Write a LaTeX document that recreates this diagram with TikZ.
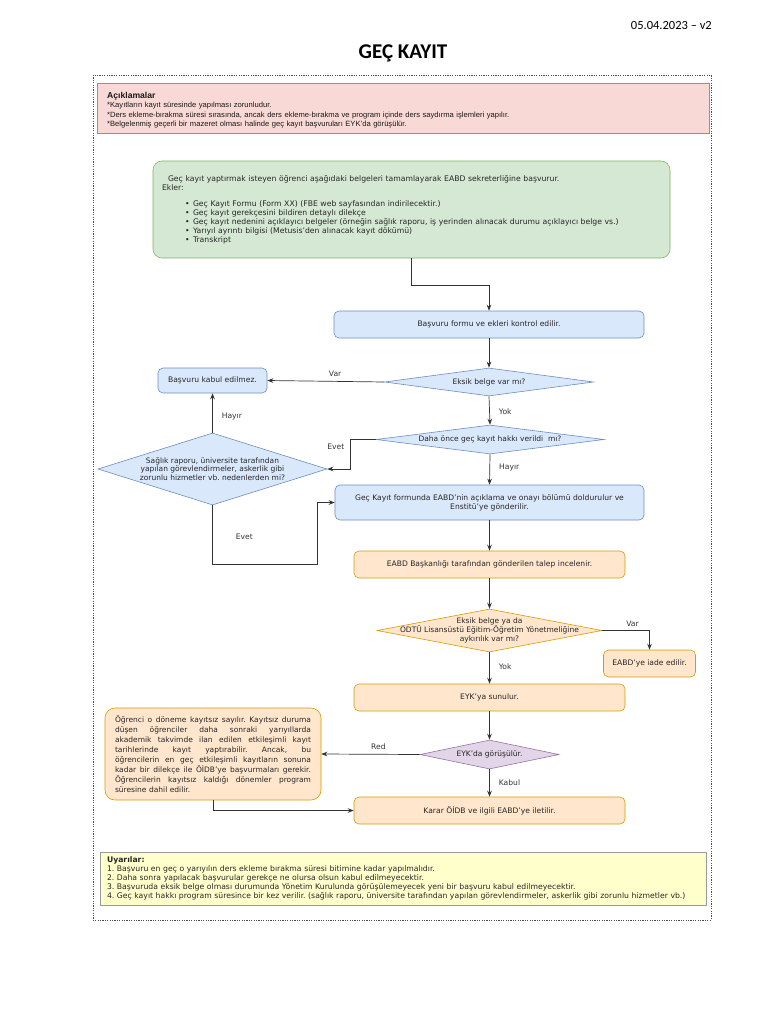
\documentclass[tikz,border=0pt]{standalone}
\usepackage{fontspec}
\usetikzlibrary{shapes.geometric,arrows.meta,calc}
\newfontfamily\vfont{DejaVu Sans}
\newfontfamily\afont{Liberation Sans}
\newfontfamily\cfont{Carlito}
\definecolor{bfill}{HTML}{DAE8FC}\definecolor{bdraw}{HTML}{6C8EBF}
\definecolor{gfill}{HTML}{D5E8D4}\definecolor{gdraw}{HTML}{82B366}
\definecolor{ofill}{HTML}{FFE6CC}\definecolor{odraw}{HTML}{D79B00}
\definecolor{pfill}{HTML}{E1D5E7}\definecolor{pdraw}{HTML}{9673A6}
\definecolor{rfill}{HTML}{F9D9D5}\definecolor{rdraw}{HTML}{D9736C}
\definecolor{yfill}{HTML}{FFFFCC}\definecolor{ydraw}{HTML}{9A9A9A}
\definecolor{lc}{HTML}{333333}
\frenchspacing
\newcommand\blt{\hspace*{23pt}\makebox[8pt][l]{\textbullet}}
\newcommand\jl[1]{\makebox[196pt][s]{\spaceskip=0pt\xspaceskip=0pt\relax #1}\\}
\begin{document}
\begin{tikzpicture}[x=1pt,y=-1pt,
  txt/.style={font=\vfont\fontsize{7.6}{9}\selectfont, text=black!85},
  box/.style={txt, draw, rounded corners=5pt, line width=0.6pt, inner sep=2pt, align=center},
  bluebox/.style={box, fill=bfill, draw=bdraw},
  orbox/.style={box, fill=ofill, draw=odraw},
  grbox/.style={box, fill=gfill, draw=gdraw},
  dia/.style={shape=diamond, draw, inner sep=0pt, line width=0.6pt},
  bdia/.style={dia, fill=bfill, draw=bdraw},
  odia/.style={dia, fill=ofill, draw=odraw},
  pdia/.style={dia, fill=pfill, draw=pdraw},
  dlab/.style={font=\vfont\fontsize{7.5}{8.8}\selectfont, text=black!85, align=center, inner sep=0pt},
  arr/.style={draw=lc, line width=0.7pt, -{Stealth[length=6pt,width=4.6pt]}},
  elab/.style={txt, text=black!80, inner sep=1pt}
]
\useasboundingbox (0,0) rectangle (768,1024);

% header
\node[anchor=east, inner sep=0pt] (date) at (712,25) {\cfont\fontsize{12.5}{14}\selectfont 05.04.2023 – v2};
\node[inner sep=0pt] (title) at (403,53) {\cfont\bfseries\fontsize{21}{24}\selectfont GEÇ KAYIT};

% outer dotted frame
\draw[gray!60!black, line width=0.6pt, dash pattern=on 1.2pt off 1.2pt] (93,75) rectangle (711,920);

% Aciklamalar
\node[draw=rdraw, fill=rfill, line width=0.6pt, minimum width=612pt, minimum height=50pt, inner sep=0pt] (acik) at (403,108) {};
\node[anchor=west, text width=590pt, inner sep=0pt, align=left,
      font=\afont\fontsize{7.6}{9.4}\selectfont, text=black!90] (aciktxt) at (107,110)
  {{\bfseries\fontsize{8.6}{9.4}\selectfont Açıklamalar}\\
   {*}Kayıtların kayıt süresinde yapılması zorunludur.\\
   {*}Ders ekleme-bırakma süresi sırasında, ancak ders ekleme-bırakma ve program içinde ders saydırma işlemleri yapılır.\\
   {*}Belgelenmiş geçerli bir mazeret olması halinde geç kayıt başvuruları EYK’da görüşülür.};

% green start box
\node[grbox, rounded corners=9pt, minimum width=517pt, minimum height=97pt, text width=499pt,
      inner xsep=9pt, align=left, font=\vfont\fontsize{7.7}{9}\selectfont] (green) at (411.5,209.5)
  {\hspace*{6pt}Geç kayıt yaptırmak isteyen öğrenci aşağıdaki belgeleri tamamlayarak EABD sekreterliğine başvurur.\\
   Ekler:\\[7pt]
   \blt Geç Kayıt Formu (Form XX) (FBE web sayfasından indirilecektir.)\\
   \blt Geç kayıt gerekçesini bildiren detaylı dilekçe\\
   \blt Geç kayıt nedenini açıklayıcı belgeler (örneğin sağlık raporu, iş yerinden alınacak durumu açıklayıcı belge vs.)\\
   \blt Yarıyıl ayrıntı bilgisi (Metusis’den alınacak kayıt dökümü)\\
   \blt Transkript};

\node[bluebox, minimum width=310pt, minimum height=27pt] (box1) at (489,324.5) {Başvuru formu ve ekleri kontrol edilir.};
\node[bdia, minimum width=209pt, minimum height=28pt, label={[dlab]center:Eksik belge var mı?}] (dia1) at (489,382) {};
\node[bluebox, minimum width=109pt, minimum height=25pt] (rej) at (212.5,380.5) {Başvuru kabul edilmez.};
\node[bdia, minimum width=228pt, minimum height=29pt, label={[dlab]center:Daha önce geç kayıt hakkı verildi\ \ mı?}] (dia2) at (490,439.5) {};
\node[bdia, minimum width=229pt, minimum height=72pt, label={[dlab]center:Sağlık raporu, üniversite tarafından\\yapılan görevlendirmeler, askerlik gibi\\zorunlu hizmetler vb. nedenlerden mi?}] (dia3) at (212.5,469) {};
\node[bluebox, minimum width=309pt, minimum height=35pt] (box4) at (489.5,502.5) {Geç Kayıt formunda EABD’nin açıklama ve onayı bölümü doldurulur ve\\Enstitü’ye gönderilir.};
\node[orbox, minimum width=271pt, minimum height=27pt] (box5) at (489.5,564.5) {EABD Başkanlığı tarafından gönderilen talep incelenir.};
\node[odia, minimum width=225pt, minimum height=43pt, label={[dlab]center:Eksik belge ya da\\ODTÜ Lisansüstü Eğitim-Öğretim Yönetmeliğine\\aykırılık var mı?}] (dia4) at (489.5,630.5) {};
\node[orbox, minimum width=92pt, minimum height=27pt] (box6) at (649.5,663.5) {EABD’ye iade edilir.};
\node[orbox, minimum width=271pt, minimum height=27pt] (box7) at (489.5,697.5) {EYK’ya sunulur.};
\node[pdia, minimum width=139pt, minimum height=29pt, label={[dlab]center:EYK’da görüşülür.}] (dia5) at (489.5,754.5) {};
\node[orbox, rounded corners=10pt, minimum width=216pt, minimum height=92pt, text width=196pt, inner xsep=10pt,
      align=left, font=\vfont\fontsize{7.5}{9.9}\selectfont] (box8) at (213,754)
  {\jl{Öğrenci o döneme kayıtsız sayılır. Kayıtsız duruma}
   \jl{düşen öğrenciler daha sonraki yarıyıllarda}
   \jl{akademik takvimde ilan edilen etkileşimli kayıt}
   \jl{tarihlerinde kayıt yaptırabilir. Ancak, bu}
   \jl{öğrencilerin en geç etkileşimli kayıtların sonuna}
   \jl{kadar bir dilekçe ile ÖİDB’ye başvurmaları gerekir.}
   \jl{Öğrencilerin kayıtsız kaldığı dönemler program}
   süresine dahil edilir.};
\node[orbox, minimum width=271pt, minimum height=27pt] (box9) at (489.5,810.5) {Karar ÖİDB ve ilgili EABD’ye iletilir.};

% Uyarilar
\node[draw=ydraw, fill=yfill, line width=0.6pt, minimum width=606pt, minimum height=53pt,
      text width=592pt, inner xsep=7pt, align=left,
      font=\vfont\fontsize{7.7}{9}\selectfont, text=black!85] (uyari) at (403,878.5)
  {{\bfseries Uyarılar:}\\
   1. Başvuru en geç o yarıyılın ders ekleme bırakma süresi bitimine kadar yapılmalıdır.\\
   2. Daha sonra yapılacak başvurular gerekçe ne olursa olsun kabul edilmeyecektir.\\
   3. Başvuruda eksik belge olması durumunda Yönetim Kurulunda görüşülemeyecek yeni bir başvuru kabul edilmeyecektir.\\
   4. Geç kayıt hakkı program süresince bir kez verilir. (sağlık raporu, üniversite tarafından yapılan görevlendirmeler, askerlik gibi zorunlu hizmetler vb.)};

% connectors
\draw[arr] (green.south) -- ++(0,27) -| (box1.north);
\draw[arr] (box1.south) -- (dia1.north);
\draw[arr] (dia1.west) -- node[elab, above=3pt, pos=0.42] {Var} (rej.east);
\draw[arr] (dia1.south) -- node[elab, right=8pt, pos=0.55] {Yok} (dia2.north);
\draw[arr] (dia2.west) -- ++(-25,0) |- node[elab, left=5pt, pos=0.13] {Evet} (dia3.east);
\draw[arr] (dia3.north) -- node[elab, right=8pt, pos=0.4] {Hayır} (rej.south);
\draw[arr] (dia3.south) -- ++(0,59) node[elab, right=22pt, pos=0.54] {Evet} -- ++(104.5,0) |- (box4.west);
\draw[arr] (dia2.south) -- node[elab, right=8pt, pos=0.42] {Hayır} (box4.north);
\draw[arr] (box4.south) -- (box5.north);
\draw[arr] (box5.south) -- (dia4.north);
\draw[arr] (dia4.east) -| node[elab, above=3pt, pos=0.32] {Var} (box6.north);
\draw[arr] (dia4.south) -- node[elab, right=8pt, pos=0.47] {Yok} (box7.north);
\draw[arr] (box7.south) -- (dia5.north);
\draw[arr] (dia5.west) -- node[elab, above=3pt, pos=0.42] {Red} (box8.east);
\draw[arr] (dia5.south) -- node[elab, right=8pt, pos=0.5] {Kabul} (box9.north);
\draw[arr] (box8.south) |- (box9.west);
\end{tikzpicture}
\end{document}
